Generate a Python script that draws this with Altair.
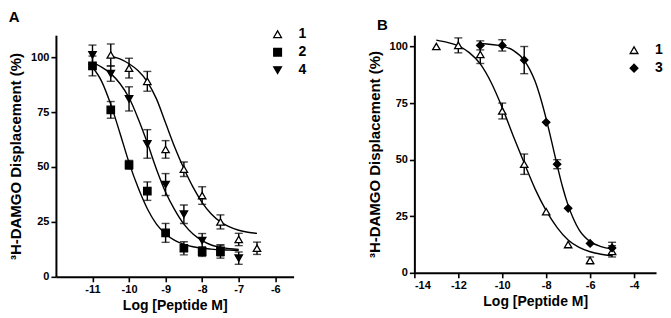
import altair as alt
import pandas as pd

FONT = "Liberation Sans"

# ---------------- Panel A : measured points ----------------
a1_x = [-10.5, -10, -9.5, -9, -8.5, -8, -7.5, -7, -6.5]
a1_y = [101, 95, 89, 58, 49, 37, 25, 17, 13]
a1_e = [5, 4.5, 4.5, 4, 3.3, 4, 3.2, 2.8, 2.8]

a2_x = [-11, -10.5, -10, -9.5, -9, -8.5, -8, -7.5]
a2_y = [96, 76, 51, 39, 20, 13, 11.5, 11.5]
a2_e = [4.5, 3.8, 2, 4.2, 4.3, 3, 2.2, 3]

a4_x = [-11, -10.5, -10, -9.5, -9, -8.5, -8, -7.5, -7]
a4_y = [101, 92.5, 81, 60.5, 42, 28.5, 16.5, 12, 8.5]
a4_e = [4.5, 3.5, 5.5, 6.5, 5, 4.2, 3.2, 2.5, 2.8]

# ---------------- Panel A : fitted curves ----------------
a1_cx = [-10.5, -10.25, -10, -9.75, -9.5, -9.25, -9, -8.75, -8.5, -8.25, -8, -7.75, -7.5, -7.25, -7, -6.75, -6.5]
a1_cy = [100.5, 99.2, 97, 93.8, 88.8, 81, 70, 59, 49.3, 40.8, 33.8, 28.6, 25, 22.7, 21.2, 20.3, 19.8]

a2_cx = [-11, -10.75, -10.5, -10.25, -10, -9.75, -9.5, -9.25, -9, -8.75, -8.5, -8.25, -8, -7.75, -7.5, -7.25, -7]
a2_cy = [95.5, 89, 78.5, 65.5, 52, 40.5, 31, 24, 19.5, 16.6, 14.8, 13.7, 13.0, 12.6, 12.3, 12.15, 12.0]

a4_cx = [-11, -10.75, -10.5, -10.25, -10, -9.75, -9.5, -9.25, -9, -8.75, -8.5, -8.25, -8, -7.75, -7.5, -7.25, -7]
a4_cy = [97.5, 95.5, 92.5, 88, 81.5, 72, 61, 49, 38.5, 30.5, 24, 19.5, 16.5, 14.5, 13.5, 12.8, 12.5]

# ---------------- Panel B : measured points ----------------
b1_x = [-13, -12, -11, -10, -9, -8, -7, -6, -5]
b1_y = [100, 100.5, 96.5, 71.5, 48, 27, 12.5, 5.5, 9.5]
b1_e = [0, 3.3, 4, 3.5, 4.5, 0, 0, 1.5, 2.5]

b3_x = [-11, -10, -9, -8, -7.5, -7, -6, -5]
b3_y = [100.5, 100.5, 94, 66.5, 48, 28.5, 13, 11]
b3_e = [2, 2.5, 6, 0, 2, 0, 0, 2.5]

# ---------------- Panel B : fitted curves ----------------
b1_cx = [-13, -12.5, -12, -11.5, -11, -10.5, -10, -9.5, -9, -8.5, -8, -7.5, -7, -6.5, -6, -5.5, -5]
b1_cy = [102.8, 101.8, 100.3, 97.3, 92.3, 84, 73, 60.5, 48.5, 37, 27.5, 20, 14.5, 11.2, 9.3, 8.2, 7.5]

b3_cx = [-11, -10.5, -10, -9.5, -9, -8.75, -8.5, -8.25, -8, -7.75, -7.5, -7.25, -7, -6.75, -6.5, -6.25, -6, -5.5, -5]
b3_cy = [101.3, 100.9, 100.2, 98.3, 93.9, 89.9, 84.5, 77, 68, 58, 47.5, 37.8, 29.8, 23.7, 19, 15.9, 13.8, 11.6, 10.6]

a_series = ["1", "2", "4"]
a_shapes = ["triangle-up", "square", "triangle-down"]
a_fills = ["white", "black", "black"]
b_series = ["1", "3"]
b_shapes = ["triangle-up", "diamond"]
b_fills = ["white", "black"]

x_title = "Log [Peptide M]"
y_title = "\u00b3H-DAMGO Displacement (%)"


def pts(name, xs, ys, es):
    return pd.DataFrame({"x": xs, "y": ys, "e": es, "series": name})


def crv(name, xs, ys):
    return pd.DataFrame({"x": xs, "y": ys, "series": name})


def panel(points, curves, series, shapes, fills, xdom, xticks, ydom, w, h,
          letter, title_dx, lx, ly):
    pdf = pd.concat(points, ignore_index=True)
    pdf["lo"] = pdf["y"] - pdf["e"]
    pdf["hi"] = pdf["y"] + pdf["e"]
    edf = pdf[pdf["e"] > 0]
    cdf = pd.concat(curves, ignore_index=True)

    xs = alt.Scale(domain=xdom, nice=False, zero=False)
    ys = alt.Scale(domain=ydom, nice=False, zero=False)
    xenc = alt.X("x:Q", scale=xs, axis=alt.Axis(values=xticks, title=x_title, labelExpr="'' + datum.value"))
    yenc = alt.Y("y:Q", scale=ys, axis=alt.Axis(values=[0, 25, 50, 75, 100], title=y_title))

    line = alt.Chart(cdf).mark_line(color="black", strokeWidth=1.4, interpolate="monotone").encode(
        x=xenc, y=yenc, detail="series:N")
    rule = alt.Chart(edf).mark_rule(color="black", strokeWidth=1.4).encode(
        x=alt.X("x:Q", scale=xs), y=alt.Y("lo:Q", scale=ys), y2="hi:Q")
    cap_lo = alt.Chart(edf).mark_tick(color="black", orient="horizontal", size=8, thickness=1.4).encode(
        x=alt.X("x:Q", scale=xs), y=alt.Y("lo:Q", scale=ys))
    cap_hi = alt.Chart(edf).mark_tick(color="black", orient="horizontal", size=8, thickness=1.4).encode(
        x=alt.X("x:Q", scale=xs), y=alt.Y("hi:Q", scale=ys))

    leg = alt.Legend(title=None, orient="none", legendX=lx, legendY=ly,
                     labelFont=FONT, labelFontSize=14, labelFontWeight="bold", labelColor="black",
                     symbolSize=60, symbolStrokeWidth=1.3,
                     symbolOpacity=1, labelOffset=14, rowPadding=4)
    point = alt.Chart(pdf).mark_point(filled=True, strokeWidth=1.3, size=55, opacity=1).encode(
        x=alt.X("x:Q", scale=xs), y=alt.Y("y:Q", scale=ys),
        shape=alt.Shape("series:N", scale=alt.Scale(domain=series, range=shapes), legend=leg),
        fill=alt.Fill("series:N", scale=alt.Scale(domain=series, range=fills), legend=leg),
        stroke=alt.Stroke("series:N", scale=alt.Scale(domain=series, range=["black"] * len(series)), legend=leg),
    )
    return alt.layer(line, rule, cap_lo, cap_hi, point).properties(
        width=w, height=h,
        title=alt.TitleParams(letter, anchor="start", frame="bounds", font=FONT, fontSize=15,
                              fontWeight="bold", color="black", dx=title_dx, offset=2),
    )


panel_a = panel(
    [pts("1", a1_x, a1_y, a1_e), pts("2", a2_x, a2_y, a2_e), pts("4", a4_x, a4_y, a4_e)],
    [crv("1", a1_cx, a1_cy), crv("2", a2_cx, a2_cy), crv("4", a4_cx, a4_cy)],
    a_series, a_shapes, a_fills, [-12, -5.5], [-11, -10, -9, -8, -7, -6], [0, 110],
    238, 242, "A", 0, 215, -8)

panel_b = panel(
    [pts("1", b1_x, b1_y, b1_e), pts("3", b3_x, b3_y, b3_e)],
    [crv("1", b1_cx, b1_cy), crv("3", b3_cx, b3_cy)],
    b_series, b_shapes, b_fills, [-14, -3], [-14, -12, -10, -8, -6, -4], [0, 105],
    242, 238, "B", 10, 213, 8)

chart = alt.hconcat(panel_a, panel_b, spacing=60).resolve_scale(
    shape="independent", fill="independent", stroke="independent", x="independent", y="independent"
).properties(padding={"left": 0, "top": 2, "right": 0, "bottom": 0}).configure_view(
    stroke=None
).configure_axis(
    grid=False, domainColor="black", domainWidth=2, tickColor="black", tickWidth=1.6, tickSize=5,
    labelFont=FONT, labelFontSize=11, labelFontWeight="bold", labelColor="black", labelPadding=2,
    titleFont=FONT, titleFontSize=14, titleFontWeight="bold", titleColor="black",
).configure_axisY(titleFontSize=15, titlePadding=7).configure_axisX(titlePadding=4)

chart.save("out.html", embed_options={"renderer": "svg", "actions": False})
